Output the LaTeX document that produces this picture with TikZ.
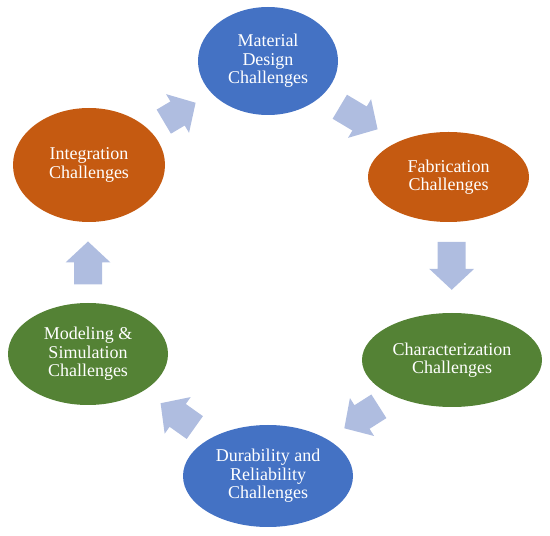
\documentclass[tikz,border=0pt]{standalone}
\usepackage{fontspec}
\setmainfont{Liberation Serif}
\definecolor{AccentBlue}{HTML}{4472C4}
\definecolor{AccentOrange}{HTML}{C55A11}
\definecolor{AccentGreen}{HTML}{548235}
\definecolor{ArrowBlue}{HTML}{AFBDE0}
\usetikzlibrary{shapes.geometric}

\begin{document}
\begin{tikzpicture}[x=1pt, y=1pt,
  stage/.style={ellipse, inner sep=0pt, text=white, align=center, font=\fontsize{18}{18.5}\selectfont},
  blockarr/.style={fill=ArrowBlue, draw=none},
]
\useasboundingbox (0,0) rectangle (550,536);
\node[stage, fill=AccentBlue,   minimum width=140pt, minimum height=108pt] (mat)  at (268,475)   {Material\\Design\\Challenges};
\node[stage, fill=AccentOrange, minimum width=161pt, minimum height=90pt]  (fab)  at (448.5,359) {Fabrication\\Challenges};
\node[stage, fill=AccentGreen,  minimum width=180pt, minimum height=94pt]  (char) at (452,176)   {Characterization\\Challenges};
\node[stage, fill=AccentBlue,   minimum width=170pt, minimum height=102pt] (dur)  at (268,60)    {Durability and\\Reliability\\Challenges};
\node[stage, fill=AccentGreen,  minimum width=160pt, minimum height=102pt] (mod)  at (88,182)    {Modeling \&\\Simulation\\Challenges};
\node[stage, fill=AccentOrange, minimum width=152pt, minimum height=114pt] (int)  at (89,371)    {Integration\\Challenges};
% block arrows of the cycle: centre x/y, angle, length
\foreach \x/\y/\a/\l in {179.7/423.8/30.7/37, 358.7/418/-30.8/44, 451.7/270.2/-90/48,
                         361.6/118.7/-147.5/41, 177.7/120.6/144.6/42, 88/273/90/43}
  \fill[blockarr, shift={(\x,\y)}, rotate=\a]
    ({-\l/2},-14) -- ({\l/2-21},-14) -- ({\l/2-21},-22.5) -- ({\l/2},0)
    -- ({\l/2-21},22.5) -- ({\l/2-21},14) -- ({-\l/2},14) -- cycle;
\end{tikzpicture}
\end{document}
